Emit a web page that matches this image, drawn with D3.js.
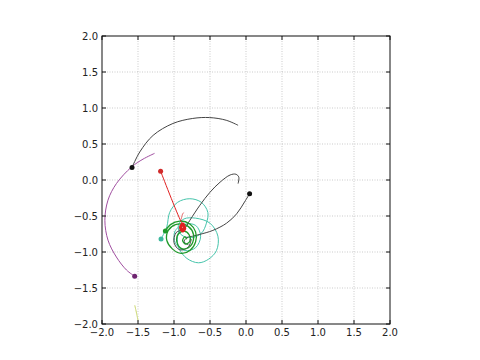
<!DOCTYPE html>
<html>
    <head>
        <meta charset="utf-8">
        <title>trajectories</title>
        <script src="https://d3js.org/d3.v7.min.js"></script>
        <style>
            body { margin: 0; background: white; }
            text { font-family: "DejaVu Sans", sans-serif; font-size: 10px; fill: #222; }
        </style>
    </head>
    <body>
        <svg id="myCanvas" width="480" height="360"></svg>

        <script>
            // tick values shared by both axes
            var ticks = [-2.0, -1.5, -1.0, -0.5, 0.0, 0.5, 1.0, 1.5, 2.0];

            // traces, [x, y]
            var blackArc = [[-1.583, 0.175], [-1.475, 0.39], [-1.29, 0.62], [-1.015, 0.785], [-0.74, 0.855],
                            [-0.506, 0.867], [-0.275, 0.83], [-0.11, 0.76]];
            var blackLoop = [[-0.11, -0.05], [-0.1, 0.04], [-0.14, 0.08], [-0.22, 0.07], [-0.36, -0.03],
                             [-0.5, -0.17], [-0.64, -0.35], [-0.78, -0.56], [-0.86, -0.68], [-0.97, -0.73],
                             [-1.0, -0.87], [-0.92, -0.97], [-0.8, -0.93], [-0.76, -0.82]];
            var blackTail = [[0.05, -0.19], [-0.02, -0.305], [-0.13, -0.47], [-0.27, -0.6], [-0.46, -0.7],
                             [-0.64, -0.755], [-0.74, -0.78], [-0.82, -0.8], [-0.86, -0.86], [-0.8, -0.9]];
            var purple = [[-1.27, 0.37], [-1.43, 0.29], [-1.59, 0.18], [-1.8, -0.05], [-1.917, -0.28],
                          [-1.96, -0.56], [-1.917, -0.835], [-1.8, -1.07], [-1.66, -1.25], [-1.546, -1.337]];
            var red = [[-1.186, 0.123], [-0.9, -0.58], [-0.87, -0.62], [-0.85, -0.67], [-0.88, -0.71],
                       [-0.91, -0.66], [-0.88, -0.61], [-0.86, -0.65], [-0.87, -0.69]];
            var redHook = [[-0.9, -0.55], [-0.88, -0.47], [-0.86, -0.45]];
            var green = [[-1.12, -0.71], [-1.05, -0.62], [-0.92, -0.57], [-0.78, -0.61], [-0.7, -0.72],
                         [-0.7, -0.86], [-0.78, -0.98], [-0.9, -1.02], [-1.02, -0.96], [-1.1, -0.84],
                         [-1.08, -0.7], [-0.98, -0.62], [-0.85, -0.62], [-0.75, -0.7], [-0.73, -0.83],
                         [-0.8, -0.94], [-0.9, -0.95], [-0.96, -0.86], [-0.94, -0.75], [-0.86, -0.71],
                         [-0.79, -0.76], [-0.78, -0.85], [-0.84, -0.89], [-0.88, -0.84], [-0.85, -0.79],
                         [-0.82, -0.82]];
            var cyan = [[-1.18, -0.82], [-1.1, -0.65], [-1.06, -0.45], [-0.95, -0.31], [-0.78, -0.26],
                        [-0.62, -0.31], [-0.53, -0.45], [-0.55, -0.6], [-0.62, -0.74], [-0.76, -0.8],
                        [-0.9, -0.76], [-0.94, -0.63], [-0.86, -0.54], [-0.7, -0.53], [-0.5, -0.6],
                        [-0.39, -0.78], [-0.41, -0.98], [-0.52, -1.1], [-0.66, -1.15], [-0.82, -1.09],
                        [-0.93, -0.95], [-0.95, -0.78], [-0.86, -0.62], [-0.7, -0.63], [-0.63, -0.78],
                        [-0.7, -0.94], [-0.85, -0.98], [-0.98, -0.88], [-0.99, -0.72], [-0.9, -0.62]];
            var yellow = [[-1.545, -1.74], [-1.52, -1.85], [-1.5, -1.95]];

            var dots = [
                {p: [-1.583, 0.175], c: "#111"},
                {p: [0.05, -0.19], c: "#111"},
                {p: [-1.546, -1.337], c: "#6e2470"},
                {p: [-1.186, 0.123], c: "#d02a2a"},
                {p: [-1.12, -0.71], c: "#1f9a2a"},
                {p: [-1.18, -0.82], c: "#3bb89c"}
            ];

            var svg = d3.select("#myCanvas");
            var mLeft = 102, mTop = 36, size = 288;

            var x = d3.scaleLinear([-2, 2], [mLeft, mLeft + size]);
            var y = d3.scaleLinear([-2, 2], [mTop + size, mTop]);
            var fmt = d3.format(".1f");

            // grid
            svg.append("g").selectAll("line").data(ticks.slice(1, -1)).join("line")
                .attr("x1", d => x(d)).attr("x2", d => x(d))
                .attr("y1", mTop).attr("y2", mTop + size)
                .attr("stroke", "#aaa").attr("stroke-width", 0.6).attr("stroke-dasharray", "1,1.5");
            svg.append("g").selectAll("line").data(ticks.slice(1, -1)).join("line")
                .attr("y1", d => y(d)).attr("y2", d => y(d))
                .attr("x1", mLeft).attr("x2", mLeft + size)
                .attr("stroke", "#aaa").attr("stroke-width", 0.6).attr("stroke-dasharray", "1,1.5");

            // traces
            var line = d3.line().x(d => x(d[0])).y(d => y(d[1])).curve(d3.curveCatmullRom);
            function trace(data, color, w) {
                svg.append("path").datum(data)
                    .attr("d", line)
                    .attr("fill", "none")
                    .attr("stroke", color)
                    .attr("stroke-width", w);
            }
            trace(cyan, "#45c4ab", 1);
            trace(purple, "#a04ea0", 1);
            trace(blackArc, "#444", 1);
            trace(blackLoop, "#444", 1);
            trace(blackTail, "#444", 1);
            trace(green, "#1f9a2a", 1.3);
            trace(red, "#e02020", 1);
            trace(red.slice(2), "#e02020", 3);
            trace(redHook, "#e05050", 0.8);
            trace(yellow, "#c9d66a", 1);

            svg.append("g").selectAll("circle").data(dots).join("circle")
                .attr("cx", d => x(d.p[0]))
                .attr("cy", d => y(d.p[1]))
                .attr("r", 2.5)
                .attr("fill", d => d.c);

            // frame
            svg.append("rect")
                .attr("x", mLeft).attr("y", mTop)
                .attr("width", size).attr("height", size)
                .attr("fill", "none").attr("stroke", "#111").attr("stroke-width", 1);

            // inward ticks on all four sides
            var tk = svg.append("g").attr("stroke", "#111");
            ticks.forEach(function (t) {
                tk.append("line").attr("x1", x(t)).attr("x2", x(t)).attr("y1", mTop + size).attr("y2", mTop + size - 4);
                tk.append("line").attr("x1", x(t)).attr("x2", x(t)).attr("y1", mTop).attr("y2", mTop + 4);
                tk.append("line").attr("y1", y(t)).attr("y2", y(t)).attr("x1", mLeft).attr("x2", mLeft + 4);
                tk.append("line").attr("y1", y(t)).attr("y2", y(t)).attr("x1", mLeft + size).attr("x2", mLeft + size - 4);
            });

            svg.append("g").selectAll("text").data(ticks).join("text")
                .attr("x", d => x(d))
                .attr("y", mTop + size + 12)
                .attr("text-anchor", "middle")
                .text(d => fmt(d));
            svg.append("g").selectAll("text").data(ticks).join("text")
                .attr("x", mLeft - 4)
                .attr("y", d => y(d) + 3.5)
                .attr("text-anchor", "end")
                .text(d => fmt(d));
        </script>
    </body>
</html>
